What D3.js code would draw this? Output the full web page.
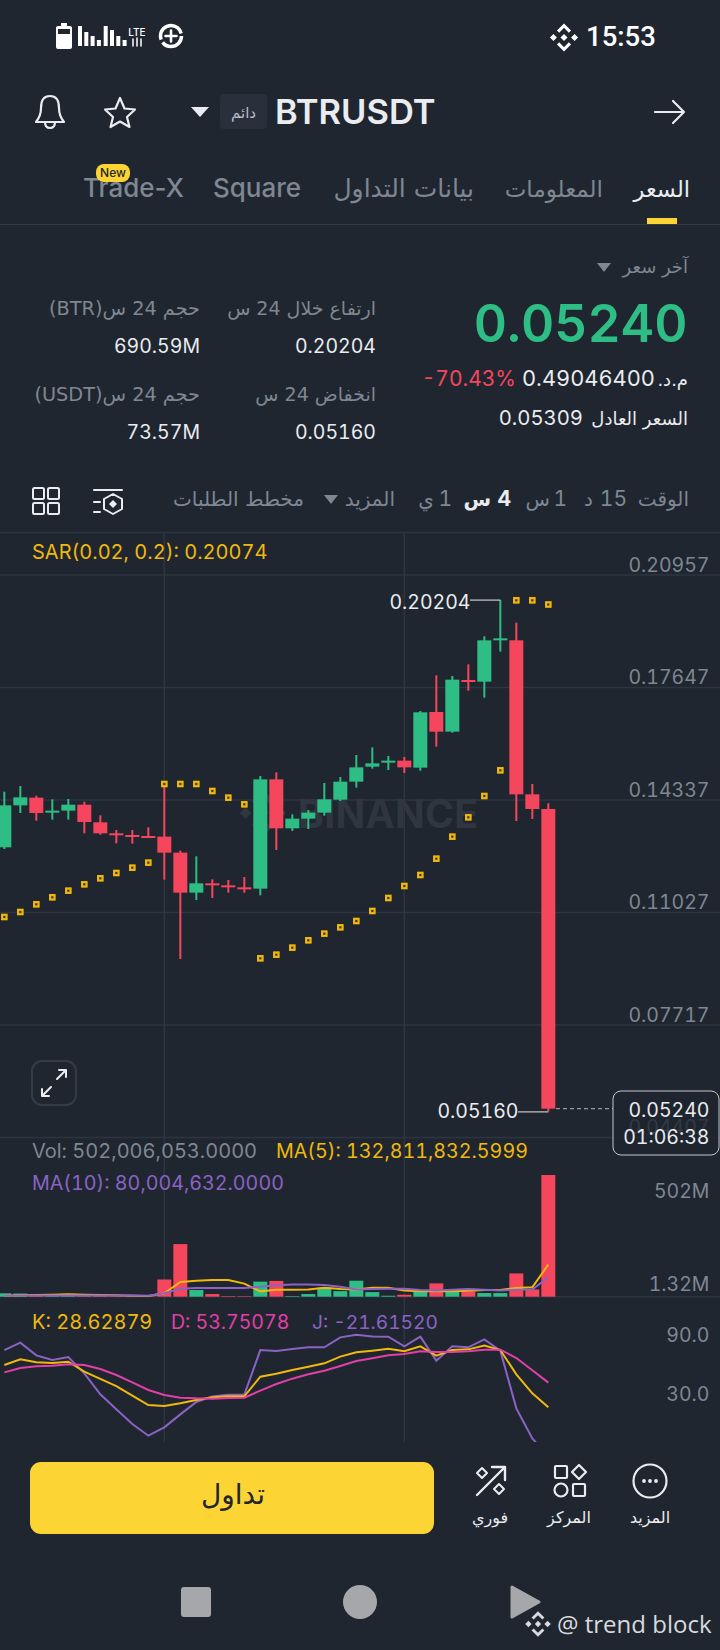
<!DOCTYPE html>
<html lang="ar">
<head>
  <meta charset="UTF-8">
  <title>BTRUSDT</title>
  <script src="https://d3js.org/d3.v7.min.js"></script>
  <style>
    html, body { margin: 0; padding: 0; background: #1f2630; }
    svg { display: block; }
    text { font-family: Inter, "DejaVu Sans", sans-serif; font-variant-numeric: tabular-nums; }
    .ar { font-family: "DejaVu Sans", sans-serif; direction: rtl; unicode-bidi: embed; }
    .ticks text { font-family: Inter, sans-serif; font-size: 19.5px; fill: #7f8792; }
    .ticks path, .ticks line { display: none; }
    .grid path { display: none; }
    .grid line { stroke: #2e3440; stroke-width: 1.5; }
  </style>
</head>
<body>
  <div id="chart"></div>
  <script>
    const opens  = [0.12930,0.14165,0.14391,0.13950,0.14009,0.14185,0.13665,0.13342,0.13293,0.13263,0.13244,0.12773,0.11596,0.11871,0.11812,0.11753,0.11714,0.14930,0.13489,0.13773,0.13950,0.14332,0.14862,0.15303,0.15421,0.15480,0.15274,0.16911,0.16333,0.17853,0.17804,0.19030,0.19020,0.14489,0.14058];
    const closes = [0.14165,0.14401,0.13940,0.14009,0.14185,0.13675,0.13342,0.13302,0.13253,0.13224,0.12773,0.11596,0.11871,0.11822,0.11763,0.11704,0.14930,0.13489,0.13773,0.13950,0.14342,0.14862,0.15283,0.15401,0.15480,0.15283,0.16902,0.16333,0.17863,0.17804,0.19020,0.19079,0.14489,0.14058,0.05240];
    const highs  = [0.14567,0.14734,0.14450,0.14342,0.14352,0.14273,0.13871,0.13440,0.13440,0.13518,0.14793,0.12832,0.12665,0.11988,0.11969,0.12057,0.15028,0.15136,0.13901,0.14028,0.14822,0.14999,0.15646,0.15872,0.15617,0.15587,0.16941,0.17990,0.17971,0.18314,0.19138,0.20204,0.19540,0.14793,0.14224];
    const lows   = [0.12881,0.13940,0.13714,0.13744,0.13744,0.13342,0.13302,0.13047,0.13038,0.13214,0.11978,0.09644,0.11380,0.11439,0.11596,0.11596,0.11518,0.12851,0.13410,0.13469,0.13861,0.14293,0.14685,0.15244,0.15205,0.15117,0.15185,0.15891,0.16303,0.17539,0.17333,0.18686,0.13704,0.13763,0.05160];
    const sar    = [0.10880,0.11027,0.11253,0.11459,0.11655,0.11841,0.12018,0.12175,0.12331,0.12479,0.14793,0.14793,0.14793,0.14587,0.14391,0.14195,0.09664,0.09772,0.09978,0.10194,0.10390,0.10576,0.10762,0.11057,0.11439,0.11792,0.12116,0.12596,0.13244,0.13812,0.14440,0.15195,0.20197,0.20197,0.20074];

    const volumes = [14,13,4,3,3,3,3,2,2,1.5,71,217,27.5,11,2.5,2,62,65,2.5,11,37,23,66,19,4,8,26,55,26,22,15,15,96,30,502];
    const volMa5  = [4,5.5,7,8,9.6,8,7,5.5,4,2.8,14,60.5,66,69,69,54,22,29,29,30,37,32,30,37,37,26,22,22,22,25,27.5,27.5,36,38.5,132.8];
    const volMa10 = [4,5,5,5,5,5,5,5,5,4,14,33,36,36,36,36,41,47,50,50,48,41,30,32,33,33,27.5,26,29,32,29,26,29,30,80];

    const kLine = [71.7,77.5,74.4,73.7,75.1,64.9,57.5,50.3,40.5,31.0,30.0,32.7,36.1,38.8,39.8,39.8,59.8,62.9,66.6,70.0,73.4,80.2,84.6,86.3,88.3,85.6,90.7,81.2,86.9,87.6,91.4,86.9,62.2,42.9,28.63];
    const dLine = [64.2,68.6,70.3,71.0,72.4,71.7,67.6,61.5,54.1,46.3,41.2,38.5,37.8,37.5,38.1,38.5,45.6,52.4,57.8,62.2,65.9,70.7,75.8,78.5,81.5,82.9,85.6,84.9,84.9,85.6,87.3,87.3,78.8,66.3,53.75];
    const jLine = [86.9,94.4,81.5,76.8,79.8,63.2,41.9,26.6,11.7,-0.2,8.3,21.5,34.1,39.8,41.5,41.5,86.9,85.9,88.0,89.7,89.7,99.8,102.5,100.8,100.5,90.7,100.5,76.1,90.7,89.7,97.8,86.3,27.6,-2.9,-21.6];

    const priceTicks = [0.20957,0.17647,0.14337,0.11027,0.07717,0.04407];
    const volTicks = [502,1.32];
    const kdjTicks = [90,30];
    const idx = opens.map((d, i) => i);

    const GREEN = '#2ebd85', RED = '#f6465d', YELLOW = '#f0b90b', PURPLE = '#8a63c4', PINK = '#e23fa9';
    const GREY = '#7f8792', WHITE = '#eaecef';

    const svg = d3.select('#chart').append('svg').attr('width', 720).attr('height', 1650);

    function txt(x, y, s, size, fill, anchor, weight) {
      return svg.append('text').attr('x', x).attr('y', y).attr('font-size', size)
        .attr('fill', fill).attr('text-anchor', anchor || 'start').attr('font-weight', weight || 400).text(s);
    }
    // right aligned arabic, x is the right edge
    function ar(x, y, s, size, fill, weight) {
      return svg.append('text').attr('class', 'ar').attr('x', x).attr('y', y).attr('font-size', size)
        .attr('fill', fill).attr('text-anchor', 'start').attr('font-weight', weight || 400).text(s);
    }
    function arMid(x, y, s, size, fill) {
      return svg.append('text').attr('class', 'ar').attr('x', x).attr('y', y).attr('font-size', size)
        .attr('fill', fill).attr('text-anchor', 'middle').text(s);
    }
    function icon(d, o) {
      return svg.append('path').attr('d', d).attr('fill', o.fill || 'none')
        .attr('stroke', o.stroke || 'none').attr('stroke-width', o.w || 0)
        .attr('stroke-linejoin', 'round').attr('stroke-linecap', 'round');
    }
    function logo(cx, cy, s, fill) {
      const g = svg.append('g').attr('transform', `translate(${cx},${cy}) scale(${s})`).attr('fill', fill);
      g.append('path').attr('d', 'M0,-3.2L3.2,0L0,3.2L-3.2,0Z');
      g.append('path').attr('d', 'M-9.6,-3.2L-6.4,0L-9.6,3.2L-12.8,0Z');
      g.append('path').attr('d', 'M9.6,-3.2L12.8,0L9.6,3.2L6.4,0Z');
      g.append('path').attr('d', 'M0,-12.8L6.4,-6.4L4.4,-4.4L0,-8.8L-4.4,-4.4L-6.4,-6.4Z');
      g.append('path').attr('d', 'M0,12.8L6.4,6.4L4.4,4.4L0,8.8L-4.4,4.4L-6.4,6.4Z');
    }

    // scales
    const x = d3.scaleLinear().domain([0, 34]).range([4.33, 548.33]);
    const yPrice = d3.scaleLinear().domain([0.04407, 0.20957]).range([1137, 574.5]);
    const yVol = d3.scaleLinear().domain([0, 502]).range([1296.7, 1175]);
    const yKdj = d3.scaleLinear().domain([30, 90]).range([1406, 1347]);

    // grid
    svg.append('g').attr('class', 'grid')
      .call(d3.axisRight(yPrice).tickValues(priceTicks).tickSize(720).tickFormat(''));
    [532.5, 1296.7].forEach(v => svg.append('line').attr('x1', 0).attr('x2', 720).attr('y1', v).attr('y2', v)
      .attr('stroke', '#2e3440').attr('stroke-width', 1.5));
    [164.3, 404.3].forEach(v => svg.append('line').attr('x1', v).attr('x2', v).attr('y1', 533).attr('y2', 1442)
      .attr('stroke', '#2e3440').attr('stroke-width', 1.5));

    // watermark
    logo(263, 813, 1.8, '#30363f');
    txt(298, 828, 'BINANCE', 39, '#30363f', 'start', 700).attr('textLength', 180);

    // axis labels
    svg.append('g').attr('class', 'ticks').attr('transform', 'translate(709.5,-3.5)')
      .call(d3.axisLeft(yPrice).tickValues(priceTicks).tickSize(0).tickPadding(0).tickFormat(d3.format('.5f')))
      .selectAll('text').attr('dy', 0);
    svg.append('g').attr('class', 'ticks').attr('transform', 'translate(709.5,0)')
      .call(d3.axisLeft(yVol).tickValues(volTicks).tickSize(0).tickPadding(0).tickFormat(d => d + 'M'))
      .selectAll('text').attr('dy', 0).attr('y', d => d === 502 ? 22.7 : -5.4);
    svg.append('g').attr('class', 'ticks').attr('transform', 'translate(709.5,-6)')
      .call(d3.axisLeft(yKdj).tickValues(kdjTicks).tickSize(0).tickPadding(0).tickFormat(d3.format('.1f')))
      .selectAll('text').attr('dy', 0);

    // candles
    const color = i => closes[i] >= opens[i] ? GREEN : RED;
    svg.append('g').selectAll('line').data(idx).join('line')
      .attr('x1', i => x(i)).attr('x2', i => x(i))
      .attr('y1', i => yPrice(highs[i])).attr('y2', i => yPrice(lows[i]))
      .attr('stroke', color).attr('stroke-width', 2);
    svg.append('g').selectAll('rect').data(idx).join('rect')
      .attr('x', i => x(i) - 7).attr('width', 14)
      .attr('y', i => yPrice(Math.max(opens[i], closes[i])))
      .attr('height', i => Math.max(2, Math.abs(yPrice(opens[i]) - yPrice(closes[i]))))
      .attr('fill', color);

    // SAR squares
    svg.append('g').selectAll('rect').data(idx).join('rect')
      .attr('x', i => x(i) - 2.2).attr('y', i => yPrice(sar[i]) - 2.2)
      .attr('width', 4.4).attr('height', 4.4)
      .attr('fill', '#3a3420').attr('stroke', YELLOW).attr('stroke-width', 2.2);

    // high / low markers
    const hi = d3.max(highs), lo = d3.min(lows), last = closes[closes.length - 1];
    const hiIdx = highs.indexOf(hi), loIdx = lows.indexOf(lo);
    svg.append('line').attr('x1', 470).attr('x2', x(hiIdx)).attr('y1', yPrice(hi)).attr('y2', yPrice(hi))
      .attr('stroke', WHITE).attr('stroke-width', 1);
    txt(470.5, yPrice(hi) + 9, d3.format('.5f')(hi), 19.5, WHITE, 'end');
    svg.append('line').attr('x1', 518).attr('x2', x(loIdx)).attr('y1', yPrice(lo) + 0.5).attr('y2', yPrice(lo) + 0.5)
      .attr('stroke', WHITE).attr('stroke-width', 1);
    txt(518.5, yPrice(lo) + 7, d3.format('.5f')(lo), 19.5, WHITE, 'end');

    // last price tag
    svg.append('line').attr('x1', 556).attr('x2', 613).attr('y1', yPrice(last)).attr('y2', yPrice(last))
      .attr('stroke', '#b4b8be').attr('stroke-width', 1).attr('stroke-dasharray', '4,3');
    svg.append('rect').attr('x', 613).attr('y', 1091).attr('width', 106).attr('height', 64).attr('rx', 8)
      .attr('fill', '#1f2630').attr('fill-opacity', 0.8).attr('stroke', '#c4c8cd').attr('stroke-width', 1);
    txt(709.5, 1117, d3.format('.5f')(last), 19.5, WHITE, 'end');
    txt(709.5, 1144, '01:06:38', 19.5, WHITE, 'end');

    // expand button
    svg.append('rect').attr('x', 32).attr('y', 1061).attr('width', 44).attr('height', 44).attr('rx', 10)
      .attr('fill', 'none').attr('stroke', '#363c47').attr('stroke-width', 2);
    icon('M57,1079L66,1070M59,1070H66V1077M51,1087L42,1096M49,1096H42V1089', { stroke: WHITE, w: 2 });

    // volume
    svg.append('g').selectAll('rect').data(idx).join('rect')
      .attr('x', i => x(i) - 7).attr('width', 14)
      .attr('y', i => yVol(volumes[i])).attr('height', i => yVol(0) - yVol(volumes[i]))
      .attr('fill', color);
    const volLine = d3.line().x((d, i) => x(i)).y(d => yVol(d));
    [[volMa5, YELLOW], [volMa10, PURPLE]].forEach(([s, c]) => svg.append('path').attr('d', volLine(s))
      .attr('fill', 'none').attr('stroke', c).attr('stroke-width', 2));

    // KDJ pane
    svg.append('clipPath').attr('id', 'kdj-clip').append('rect').attr('x', 0).attr('y', 1297).attr('width', 720).attr('height', 145);
    const kdjG = svg.append('g').attr('clip-path', 'url(#kdj-clip)');
    const kdjPath = d3.line().x((d, i) => x(i)).y(d => yKdj(d));
    [[jLine, PURPLE], [kLine, YELLOW], [dLine, PINK]].forEach(([s, c]) => kdjG.append('path').attr('d', kdjPath(s))
      .attr('fill', 'none').attr('stroke', c).attr('stroke-width', 2));

    // indicator legends
    txt(32, 559, 'SAR(0.02, 0.2): 0.20074', 20, YELLOW);
    txt(32, 1158, 'Vol: 502,006,053.0000', 20, GREY);
    txt(276, 1158, 'MA(5): 132,811,832.5999', 19.7, YELLOW);
    txt(32, 1190, 'MA(10): 80,004,632.0000', 19.7, PURPLE);
    txt(32, 1329, 'K: 28.62879', 20, YELLOW);
    txt(171, 1329, 'D: 53.75078', 19.5, PINK);
    txt(312, 1329, 'J: -21.61520', 19.2, PURPLE);

    // status bar
    icon('M58,26H61V23H67V26H70Q72,26 72,28V47Q72,49 70,49H58Q56,49 56,47V28Q56,26 58,26Z', { fill: '#fff' });
    svg.append('rect').attr('x', 58).attr('y', 29).attr('width', 12).attr('height', 5).attr('fill', '#1f2630');
    svg.append('g').selectAll('rect').data([20, 14, 10, 6, 20, 16, 10, 6]).join('rect')
      .attr('x', (d, i) => 78 + i * 6.3 + (i > 3 ? 0.5 : 0)).attr('y', d => 46 - d).attr('width', 4).attr('height', d => d).attr('fill', '#fff');
    txt(137, 36, 'LTE', 10, '#fff', 'middle', 500);
    icon('M133,46V39M137,38V46M141,46V39', { stroke: '#fff', w: 1.5 });
    svg.append('circle').attr('cx', 171).attr('cy', 36).attr('r', 10.5).attr('fill', 'none').attr('stroke', '#fff').attr('stroke-width', 3.5)
      .attr('stroke-dasharray', '26,3,34,3');
    icon('M165.5,36H176.5M171,30.5V41.5', { stroke: '#fff', w: 2.6 });
    logo(564, 37.5, 1.1, '#fff');
    txt(586, 46, '15:53', 27.5, '#fff', 'start', 500).style('font-family', 'Roboto');

    // header
    icon('M36,122Q41,116 41,108Q41,96 50,96Q59,96 59,108Q59,116 64,122Z', { stroke: WHITE, w: 2.2 });
    icon('M45,122Q45,128 50,128Q55,128 55,122', { stroke: WHITE, w: 2.2 });
    icon('M120,98L124.5,108.5L135,109.5L127,117L129.5,127L120,121.5L110.5,127L113,117L105,109.5L115.5,108.5Z', { stroke: WHITE, w: 2.2 });
    icon('M191,107H209L200,117Z', { fill: WHITE });
    svg.append('rect').attr('x', 220).attr('y', 94).attr('width', 47).attr('height', 35).attr('rx', 4).attr('fill', '#2a303b');
    arMid(243.5, 118, 'دائم', 15, '#b7bdc6');
    txt(275, 124, 'BTRUSDT', 34.5, WHITE, 'start', 600);
    icon('M655,112H684M673,101L684,112L673,123', { stroke: WHITE, w: 2.2 });

    // tabs
    ar(690, 197, 'السعر', 22.5, WHITE);
    ar(603, 197, 'المعلومات', 23, GREY);
    ar(474, 197, 'بيانات التداول', 25, GREY);
    txt(213, 197, 'Square', 26, GREY, 'start', 500);
    txt(83, 197, 'Trade-X', 26, GREY, 'start', 500).style('font-variant-numeric', 'normal');
    svg.append('rect').attr('x', 96).attr('y', 164).attr('width', 34).attr('height', 18).attr('rx', 8).attr('fill', '#fcd535');
    txt(113, 177, 'New', 12, '#1f2630', 'middle', 500);
    svg.append('rect').attr('x', 647).attr('y', 218).attr('width', 30).attr('height', 6).attr('fill', '#fcd535');
    svg.append('line').attr('x1', 0).attr('x2', 720).attr('y1', 224.5).attr('y2', 224.5).attr('stroke', '#353b46').attr('stroke-width', 1);

    // price block
    ar(688, 273, 'آخر سعر', 18, GREY);
    icon('M597,263H611L604,272Z', { fill: GREY });
    txt(687.5, 342, '0.05240', 51.5, GREEN, 'end', 600);
    ar(688, 386, 'م.د.', 18, WHITE);
    txt(655, 386, '0.49046400', 21.8, WHITE, 'end');
    txt(516, 386, '-70.43%', 21, RED, 'end');
    ar(688, 425, 'السعر العادل', 18, WHITE);
    txt(583, 425, '0.05309', 20.3, WHITE, 'end');

    // stats
    ar(376, 315, 'ارتفاع خلال 24 س', 19, GREY);
    ar(200, 315, 'حجم 24 س(BTR)', 19.3, GREY);
    txt(376, 353, '0.20204', 19.5, WHITE, 'end');
    txt(200, 353, '690.59M', 19.5, WHITE, 'end');
    ar(376, 401, 'انخفاض 24 س', 19, GREY);
    ar(200, 401, 'حجم 24 س(USDT)', 19.3, GREY);
    txt(376, 439, '0.05160', 19.5, WHITE, 'end');
    txt(200, 439, '73.57M', 19.5, WHITE, 'end');

    // toolbar
    ar(689, 506, 'الوقت', 20, GREY);
    txt(627, 506, '15', 21, GREY, 'end');
    ar(593, 506, 'د', 20, GREY);
    txt(567, 506, '1', 21, GREY, 'end');
    ar(550, 506, 'س', 20, GREY);
    txt(511, 506, '4', 21, WHITE, 'end', 700);
    ar(491, 506, 'س', 20, WHITE, 700);
    txt(452, 506, '1', 21, GREY, 'end');
    ar(434, 506, 'ي', 20, GREY);
    ar(395, 506, 'المزيد', 20, GREY);
    icon('M324,495H338L331,504Z', { fill: GREY });
    ar(304, 506, 'مخطط الطلبات', 20, GREY);
    [[33, 488], [48, 488], [33, 503], [48, 503]].forEach(p => svg.append('rect').attr('x', p[0]).attr('y', p[1])
      .attr('width', 11).attr('height', 11).attr('rx', 1.5).attr('fill', 'none').attr('stroke', WHITE).attr('stroke-width', 2));
    icon('M94,490H122M94,502H100M94,512H100', { stroke: WHITE, w: 2 });
    icon('M113,494L122,499V509L113,514L104,509V499Z', { stroke: WHITE, w: 2 });
    icon('M113,500L117,504L113,508L109,504Z', { fill: WHITE });

    // bottom actions
    svg.append('rect').attr('x', 30).attr('y', 1462).attr('width', 404).attr('height', 72).attr('rx', 11).attr('fill', '#fcd535');
    arMid(233, 1504, 'تداول', 28, '#1f2630');
    icon('M477,1495L505,1467M492,1467H505V1480', { stroke: WHITE, w: 2.4 });
    icon('M482,1468L487,1473L482,1478L477,1473Z', { stroke: WHITE, w: 2 });
    icon('M499,1484L504,1489L499,1494L494,1489Z', { stroke: WHITE, w: 2 });
    arMid(490, 1523, 'فوري', 16, WHITE);
    svg.append('rect').attr('x', 555).attr('y', 1466).attr('width', 12).attr('height', 12).attr('rx', 1).attr('fill', 'none').attr('stroke', WHITE).attr('stroke-width', 2.2);
    icon('M579,1465L586,1472L579,1479L572,1472Z', { stroke: WHITE, w: 2.2 });
    svg.append('circle').attr('cx', 561).attr('cy', 1490).attr('r', 6.5).attr('fill', 'none').attr('stroke', WHITE).attr('stroke-width', 2.2);
    svg.append('rect').attr('x', 573).attr('y', 1484).attr('width', 12).attr('height', 12).attr('rx', 1).attr('fill', 'none').attr('stroke', WHITE).attr('stroke-width', 2.2);
    arMid(569, 1523, 'المركز', 16, WHITE);
    svg.append('circle').attr('cx', 650).attr('cy', 1481).attr('r', 16.5).attr('fill', 'none').attr('stroke', WHITE).attr('stroke-width', 2.2);
    [-6, 0, 6].forEach(d => svg.append('circle').attr('cx', 650 + d).attr('cy', 1481).attr('r', 1.9).attr('fill', WHITE));
    arMid(650, 1523, 'المزيد', 16, WHITE);

    // nav bar
    svg.append('rect').attr('x', 181).attr('y', 1587).attr('width', 30).attr('height', 30).attr('rx', 3).attr('fill', '#a5a7ab');
    svg.append('ellipse').attr('cx', 360).attr('cy', 1602).attr('rx', 17).attr('ry', 17).attr('fill', '#a5a7ab');
    icon('M512,1587L539,1602L512,1617Z', { fill: '#a5a7ab', stroke: '#a5a7ab', w: 3 });
    logo(538, 1624, 1, '#d8dadd');
    txt(557, 1633, '@ trend block', 24, '#d8dadd').style('font-family', 'Open Sans');
  </script>
</body>
</html>
